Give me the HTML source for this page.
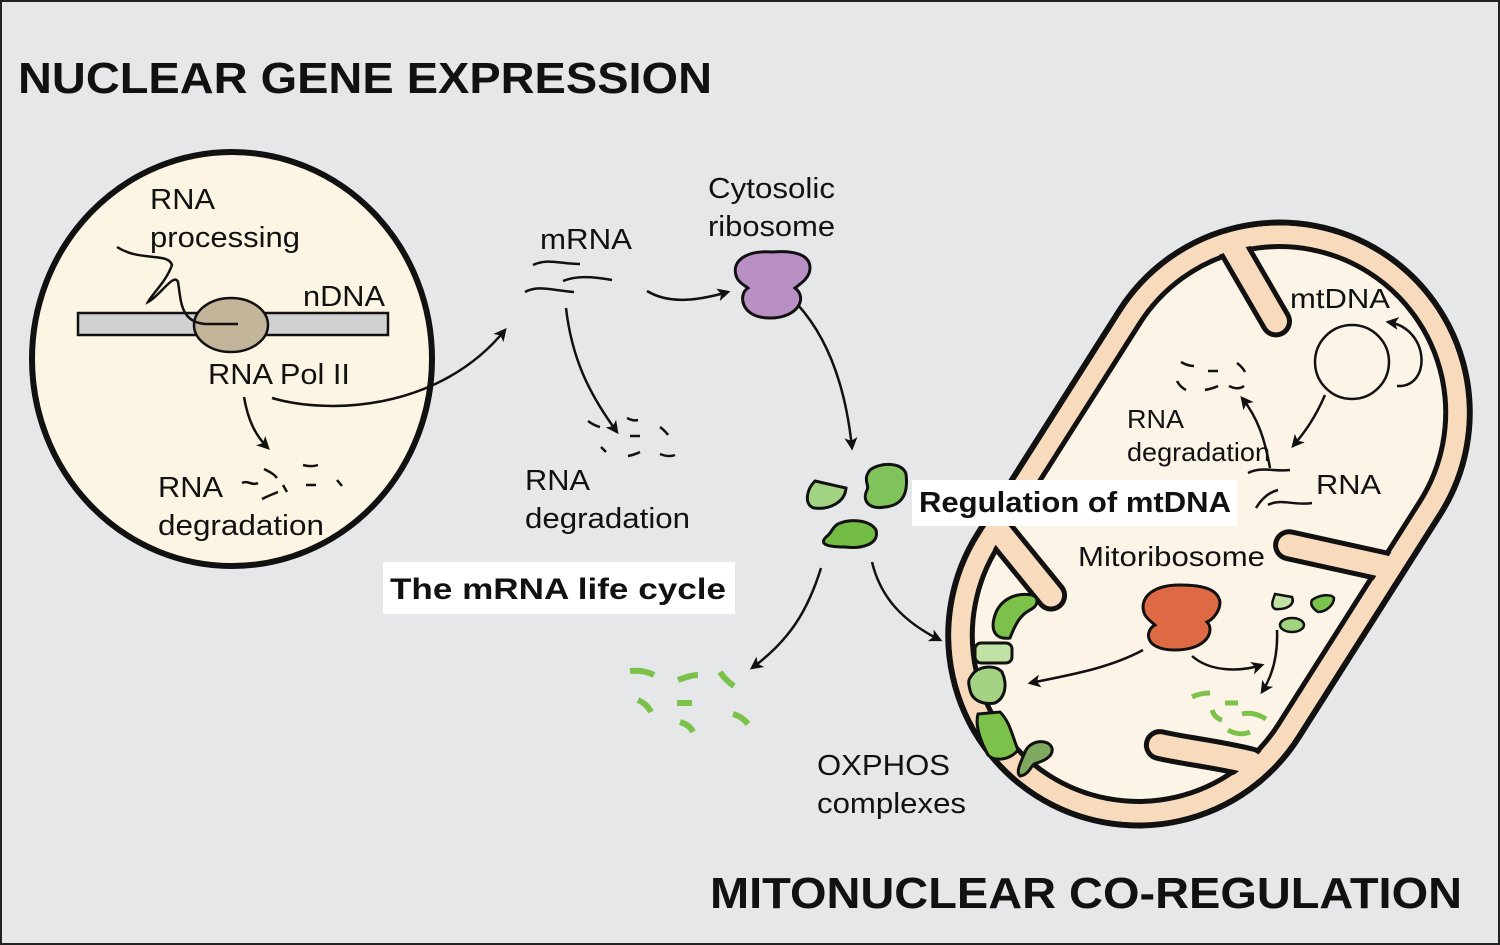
<!DOCTYPE html>
<html><head><meta charset="utf-8"><style>
html,body{margin:0;padding:0;background:#e6e7e9}
svg{display:block}
text{font-family:"Liberation Sans",Arial,sans-serif;fill:#111}
</style></head><body>
<svg width="1500" height="945" viewBox="0 0 1500 945" xmlns="http://www.w3.org/2000/svg">
<defs>
<marker id="ah" viewBox="0 0 20 20" refX="16" refY="10" markerWidth="13" markerHeight="13" markerUnits="userSpaceOnUse" orient="auto">
<path d="M0,0 L20,10 L0,20 L5,10 Z" fill="#111"/>
</marker>
</defs>
<rect x="1" y="1" width="1498" height="943" fill="#e6e7e9" stroke="#222" stroke-width="2"/>
<text x="18" y="93" font-size="44" font-weight="bold" textLength="694" lengthAdjust="spacingAndGlyphs">NUCLEAR GENE EXPRESSION</text>
<text x="710" y="908" font-size="44" font-weight="bold" textLength="752" lengthAdjust="spacingAndGlyphs">MITONUCLEAR CO-REGULATION</text>

<!-- Nucleus -->
<ellipse cx="232" cy="359" rx="200" ry="207" fill="#fdf5e3" stroke="#111" stroke-width="6"/>
<rect x="78" y="313" width="310" height="22" fill="#d0d1d3" stroke="#111" stroke-width="2.5"/>
<ellipse cx="231" cy="325" rx="37" ry="27" fill="#c3b59a" stroke="#111" stroke-width="2.5"/>
<path d="M117,247 C140,262 168,252 172,265 C166,282 152,294 148,302 C160,296 174,272 178,282 C181,300 180,322 205,324 L238,324" fill="none" stroke="#111" stroke-width="2.5"/>
<text x="150" y="209" font-size="29" textLength="65" lengthAdjust="spacingAndGlyphs">RNA</text>
<text x="150" y="247" font-size="29" textLength="150" lengthAdjust="spacingAndGlyphs">processing</text>
<text x="303" y="306" font-size="29" textLength="82" lengthAdjust="spacingAndGlyphs">nDNA</text>
<text x="208" y="384" font-size="29" textLength="142" lengthAdjust="spacingAndGlyphs">RNA Pol II</text>
<path d="M244,397 C248,420 255,435 268,448" fill="none" stroke="#111" stroke-width="2.5" marker-end="url(#ah)"/>
<path d="M272,398 C330,415 440,410 505,330" fill="none" stroke="#111" stroke-width="2.5" marker-end="url(#ah)"/>
<g fill="none" stroke="#111" stroke-width="2.5">
<path d="M242,483 C248,480 252,486 258,483"/>
<path d="M264,469 C270,472 274,474 277,478"/>
<path d="M283,485 L287,492"/>
<path d="M262,499 C268,496 273,494 278,492"/>
<path d="M303,465 C310,467 315,466 318,465"/>
<path d="M306,485 L316,485"/>
<path d="M337,480 L342,486"/>
</g>
<text x="158" y="497" font-size="29" textLength="65" lengthAdjust="spacingAndGlyphs">RNA</text>
<text x="158" y="535" font-size="29" textLength="166" lengthAdjust="spacingAndGlyphs">degradation</text>

<!-- Cytosol -->
<text x="540" y="249" font-size="29" textLength="92" lengthAdjust="spacingAndGlyphs">mRNA</text>
<g fill="none" stroke="#111" stroke-width="2.5">
<path d="M533,265 C548,258 560,264 580,264"/>
<path d="M563,281 C575,276 590,276 612,280"/>
<path d="M525,292 C538,285 550,290 574,292"/>
</g>
<path d="M566,308 C572,360 590,395 617,432" fill="none" stroke="#111" stroke-width="2.5" marker-end="url(#ah)"/>
<g fill="none" stroke="#111" stroke-width="2.5">
<path d="M588,421 C592,424 596,426 600,427"/>
<path d="M627,418 C631,420 634,421 638,420"/>
<path d="M630,436 L640,436"/>
<path d="M660,427 C664,430 666,432 668,435"/>
<path d="M601,447 L606,452"/>
<path d="M628,456 C633,455 636,454 640,452"/>
<path d="M660,454 C665,456 670,457 675,455"/>
</g>
<text x="525" y="490" font-size="29" textLength="65" lengthAdjust="spacingAndGlyphs">RNA</text>
<text x="525" y="528" font-size="29" textLength="165" lengthAdjust="spacingAndGlyphs">degradation</text>
<rect x="383" y="562" width="352" height="52" fill="#fff"/>
<text x="390" y="599" font-size="30" font-weight="bold" textLength="336" lengthAdjust="spacingAndGlyphs">The mRNA life cycle</text>

<text x="708" y="198" font-size="29" textLength="127" lengthAdjust="spacingAndGlyphs">Cytosolic</text>
<text x="708" y="236" font-size="29" textLength="127" lengthAdjust="spacingAndGlyphs">ribosome</text>
<path d="M647,291 C670,305 700,300 728,292" fill="none" stroke="#111" stroke-width="2.5" marker-end="url(#ah)"/>
<path d="M772,252 C745,250 730,262 737,278 C740,284 746,286 748,288 C738,294 740,318 770,318 C798,318 808,298 795,288 C800,284 810,278 810,268 C810,255 795,250 772,252 Z" fill="#b990c3" stroke="#111" stroke-width="3"/>
<path d="M798,305 C825,335 845,380 852,448" fill="none" stroke="#111" stroke-width="2.5" marker-end="url(#ah)"/>
<path d="M815,481 L846,488 C845,502 830,510 814,508 C804,505 806,490 815,481 Z" fill="#a1d383" stroke="#111" stroke-width="3"/>
<path d="M870,470 C880,462 903,462 906,474 C908,490 905,505 885,507 C868,510 862,500 867,490 C870,485 862,480 870,470 Z" fill="#80c35a" stroke="#111" stroke-width="3"/>
<path d="M838,524 C850,518 870,520 876,530 C880,545 860,549 845,547 C830,547 818,545 826,537 C832,533 832,527 838,524 Z" fill="#74bd45" stroke="#111" stroke-width="3"/>
<path d="M821,568 C808,610 790,640 752,668" fill="none" stroke="#111" stroke-width="2.5" marker-end="url(#ah)"/>
<path d="M872,562 C880,595 900,620 940,640" fill="none" stroke="#111" stroke-width="2.5" marker-end="url(#ah)"/>
<g fill="none" stroke="#7cc24a" stroke-width="6">
<path d="M630,671 C640,670 648,672 654,675"/>
<path d="M678,680 C686,677 692,675 698,675"/>
<path d="M720,672 C724,678 728,682 734,686"/>
<path d="M638,700 C644,703 648,706 651,712"/>
<path d="M677,703 L692,703"/>
<path d="M733,714 C740,716 744,719 748,724"/>
<path d="M680,722 C686,724 690,726 693,732"/>
</g>

<!-- Mitochondrion -->
<g transform="translate(1209,524) rotate(-57.6)">
<path d="M-132,-190 H132 A190,190 0 0 1 132,190 H-132 A190,190 0 0 1 -132,-190 Z" fill="#f8dbbd" stroke="#111" stroke-width="6"/>
<path d="M-132,-166 H132 A166,166 0 0 1 132,166 H-132 A166,166 0 0 1 -132,-166 Z" fill="#fdf4e8" stroke="#111" stroke-width="5"/>
<g stroke-linecap="round" fill="none">
<g stroke="#111" stroke-width="32">
<path d="M246,-127 L207,-52"/>
<path d="M-120,-170 L-145,-95"/>
<path d="M58,170 L25,79"/>
<path d="M-179,163 C-190,130 -205,100 -213,77"/>
</g>
<g stroke="#f8dbbd" stroke-width="22">
<path d="M246,-127 L207,-52"/>
<path d="M-120,-170 L-145,-95"/>
<path d="M58,170 L25,79"/>
<path d="M-179,163 C-190,130 -205,100 -213,77"/>
</g>
</g>
<path fill-rule="evenodd" fill="#f8dbbd" d="M-132,-187 H132 A187,187 0 0 1 132,187 H-132 A187,187 0 0 1 -132,-187 Z M-132,-169 H132 A169,169 0 0 1 132,169 H-132 A169,169 0 0 1 -132,-169 Z"/>
</g>

<circle cx="1352" cy="362" r="37" fill="none" stroke="#111" stroke-width="2.5"/>
<path d="M1397,386 C1432,388 1430,328 1388,322" fill="none" stroke="#111" stroke-width="2.5" marker-end="url(#ah)"/>
<text x="1290" y="308" font-size="28" textLength="100" lengthAdjust="spacingAndGlyphs">mtDNA</text>
<path d="M1325,395 C1315,418 1305,432 1293,446" fill="none" stroke="#111" stroke-width="2.5" marker-end="url(#ah)"/>
<path d="M1270,468 C1265,440 1258,418 1242,398" fill="none" stroke="#111" stroke-width="2.5" marker-end="url(#ah)"/>
<g fill="none" stroke="#111" stroke-width="2.5">
<path d="M1181,362 C1186,365 1190,366 1194,366"/>
<path d="M1208,371 L1218,371"/>
<path d="M1237,363 C1241,366 1243,368 1245,372"/>
<path d="M1177,381 C1179,385 1182,388 1186,390"/>
<path d="M1205,390 C1210,389 1214,388 1218,386"/>
<path d="M1229,386 C1235,389 1240,389 1244,386"/>
</g>
<text x="1127" y="428" font-size="26" textLength="57" lengthAdjust="spacingAndGlyphs">RNA</text>
<text x="1127" y="461" font-size="26" textLength="143" lengthAdjust="spacingAndGlyphs">degradation</text>
<g fill="none" stroke="#111" stroke-width="2.5">
<path d="M1248,473 C1262,466 1275,472 1290,470"/>
<path d="M1256,508 C1262,498 1270,492 1278,490"/>
<path d="M1268,505 C1280,498 1295,506 1312,503"/>
</g>
<text x="1316" y="494" font-size="28" textLength="65" lengthAdjust="spacingAndGlyphs">RNA</text>
<rect x="912" y="480" width="325" height="46" fill="#fff"/>
<text x="919" y="512" font-size="29" font-weight="bold" textLength="312" lengthAdjust="spacingAndGlyphs">Regulation of mtDNA</text>
<text x="1078" y="566" font-size="28" textLength="187" lengthAdjust="spacingAndGlyphs">Mitoribosome</text>
<path d="M1180,585 C1150,585 1138,600 1145,615 C1148,620 1152,622 1155,625 C1145,630 1143,650 1175,650 C1208,650 1215,630 1207,622 C1212,620 1220,612 1220,602 C1218,590 1205,585 1180,585 Z" fill="#dd6a45" stroke="#111" stroke-width="3"/>
<path d="M1143,650 C1110,668 1070,675 1030,683" fill="none" stroke="#111" stroke-width="2.5" marker-end="url(#ah)"/>
<path d="M1192,656 C1210,672 1240,672 1262,665" fill="none" stroke="#111" stroke-width="2.5" marker-end="url(#ah)"/>
<path d="M1277,630 C1278,655 1273,675 1262,692" fill="none" stroke="#111" stroke-width="2.5" marker-end="url(#ah)"/>
<path d="M1275,594 L1292,597 C1295,604 1288,610 1275,609 C1270,606 1273,600 1275,594 Z" fill="#c0e2a4" stroke="#111" stroke-width="2.5"/>
<path d="M1312,600 C1320,594 1332,594 1334,598 C1334,605 1326,612 1318,612 C1312,608 1310,604 1312,600 Z" fill="#7cc24f" stroke="#111" stroke-width="2.5"/>
<ellipse cx="1292" cy="625" rx="12" ry="7" fill="#9fd37d" stroke="#111" stroke-width="2.5"/>
<g fill="none" stroke="#7cc24a" stroke-width="5">
<path d="M1192,697 C1198,694 1204,693 1210,693"/>
<path d="M1225,703 L1238,703"/>
<path d="M1212,710 C1214,716 1218,719 1222,720"/>
<path d="M1242,714 C1250,712 1258,714 1266,719"/>
<path d="M1228,730 C1235,734 1243,735 1250,732"/>
</g>
<path d="M995,615 C1000,600 1015,592 1032,595 C1040,598 1038,606 1030,610 C1020,615 1015,625 1010,638 C995,640 990,630 995,615 Z" fill="#7bc14a" stroke="#111" stroke-width="3"/>
<rect x="975" y="643" width="37" height="20" rx="6" fill="#c0e2a4" stroke="#111" stroke-width="3"/>
<path d="M972,675 C978,666 995,664 1002,672 C1008,685 1005,698 995,703 C982,705 972,700 970,690 C968,682 968,680 972,675 Z" fill="#a3d382" stroke="#111" stroke-width="3"/>
<path d="M978,714 L1000,712 C1010,722 1012,735 1018,750 C1010,760 995,762 988,755 C980,740 975,725 978,714 Z" fill="#7bc14a" stroke="#111" stroke-width="3"/>
<path d="M1025,752 C1030,740 1048,738 1052,748 C1054,758 1040,762 1034,764 C1030,768 1028,775 1020,776 C1015,772 1022,760 1025,752 Z" fill="#7fa960" stroke="#111" stroke-width="3"/>
<text x="817" y="775" font-size="29" textLength="133" lengthAdjust="spacingAndGlyphs">OXPHOS</text>
<text x="817" y="813" font-size="29" textLength="149" lengthAdjust="spacingAndGlyphs">complexes</text>
</svg>
</body></html>
